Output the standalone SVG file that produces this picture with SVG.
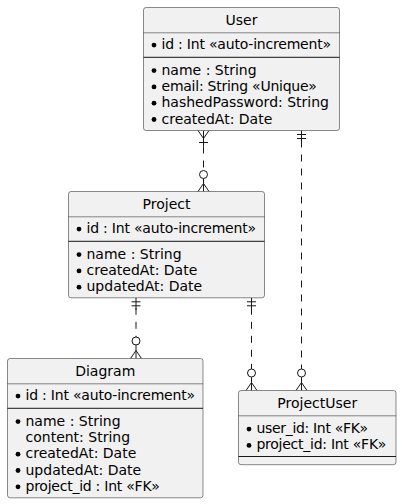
<svg xmlns="http://www.w3.org/2000/svg" width="402" height="504" viewBox="0 0 402 504">
<style>
.box{fill:#F1F1F1;stroke:#181818;stroke-width:0.5}
.hsep{stroke:#181818;stroke-width:0.5}
.sep{stroke:#181818;stroke-width:1}
.t{font-family:"DejaVu Sans",sans-serif;font-size:14px;fill:#000000}
.title{text-anchor:middle}
.b{fill:#000000}
.ln{stroke:#181818;stroke-width:1;fill:none}
.dash{stroke:#181818;stroke-width:1;fill:none;stroke-dasharray:7,7}
</style>
<rect width="402" height="504" fill="#FFFFFF"/>
<g id="connectors">
  <!-- User -> Project -->
  <path class="ln" d="M198,130.5 L203.5,138.5 L209,130.5 M203.5,130.5 L203.5,146.5 M199,142.5 L208,142.5"/>
  <line class="dash" x1="203.5" y1="146.5" x2="203.5" y2="170.5"/>
  <circle class="ln" cx="203.5" cy="174.5" r="4"/>
  <path class="ln" d="M203.5,178.5 L203.5,191.5 M198,191.5 L203.5,183.5 L209,191.5"/>
  <!-- User -> ProjectUser -->
  <path class="ln" d="M301.5,130.5 L301.5,142.5 M297,134.5 L306,134.5 M297,138.5 L306,138.5"/>
  <line class="dash" x1="301.5" y1="140.5" x2="301.5" y2="369"/>
  <circle class="ln" cx="301.5" cy="373" r="4"/>
  <path class="ln" d="M301.5,377 L301.5,390.5 M296,390.5 L301.5,382.5 L307,390.5"/>
  <!-- Project -> Diagram -->
  <path class="ln" d="M136,297.8 L136,309.8 M131.5,301.8 L140.5,301.8 M131.5,305.8 L140.5,305.8"/>
  <line class="dash" x1="136" y1="307.8" x2="136" y2="337"/>
  <circle class="ln" cx="136" cy="341" r="4"/>
  <path class="ln" d="M136,345 L136,358.5 M130.5,358.5 L136,350.5 L141.5,358.5"/>
  <!-- Project -> ProjectUser -->
  <path class="ln" d="M251.5,297.8 L251.5,309.8 M247,301.8 L256,301.8 M247,305.8 L256,305.8"/>
  <line class="dash" x1="251.5" y1="307.8" x2="251.5" y2="369"/>
  <circle class="ln" cx="251.5" cy="373" r="4"/>
  <path class="ln" d="M251.5,377 L251.5,390.5 M246,390.5 L251.5,382.5 L257,390.5"/>
</g>
<g id="User">
  <rect class="box" x="143.5" y="7.5" width="196" height="123" rx="2.5" ry="2.5"/>
  <line class="hsep" x1="143.5" y1="32.8" x2="339.5" y2="32.8"/>
  <line class="sep" x1="143.5" y1="57.3" x2="339.5" y2="57.3"/>
  <text class="t title" x="241.5" y="25.3">User</text>
  <circle class="b" cx="154" cy="45.1" r="2.4"/>
  <text class="t" x="161.5" y="49.1" textLength="169.5" lengthAdjust="spacing">id : Int «auto-increment»</text>
  <circle class="b" cx="154" cy="70.6" r="2.4"/>
  <text class="t" x="161.5" y="74.6">name : String</text>
  <circle class="b" cx="154" cy="86.9" r="2.4"/>
  <text class="t" x="161.5" y="90.9" textLength="155.4" lengthAdjust="spacing">email: String «Unique»</text>
  <circle class="b" cx="154" cy="103.2" r="2.4"/>
  <text class="t" x="161.5" y="107.2">hashedPassword: String</text>
  <circle class="b" cx="154" cy="119.5" r="2.4"/>
  <text class="t" x="161.5" y="123.5">createdAt: Date</text>
</g>
<g id="Project">
  <rect class="box" x="68.5" y="191.5" width="196" height="106.3" rx="2.5" ry="2.5"/>
  <line class="hsep" x1="68.5" y1="216.8" x2="264.5" y2="216.8"/>
  <line class="sep" x1="68.5" y1="241.3" x2="264.5" y2="241.3"/>
  <text class="t title" x="166.5" y="209.3">Project</text>
  <circle class="b" cx="79" cy="229.1" r="2.4"/>
  <text class="t" x="86.5" y="233.1" textLength="169.5" lengthAdjust="spacing">id : Int «auto-increment»</text>
  <circle class="b" cx="79" cy="254.6" r="2.4"/>
  <text class="t" x="86.5" y="258.6">name : String</text>
  <circle class="b" cx="79" cy="270.9" r="2.4"/>
  <text class="t" x="86.5" y="274.9">createdAt: Date</text>
  <circle class="b" cx="79" cy="287.2" r="2.4"/>
  <text class="t" x="86.5" y="291.2">updatedAt: Date</text>
</g>
<g id="Diagram">
  <rect class="box" x="7.5" y="358.5" width="195.5" height="139.3" rx="2.5" ry="2.5"/>
  <line class="hsep" x1="7.5" y1="383.8" x2="203" y2="383.8"/>
  <line class="sep" x1="7.5" y1="408.3" x2="203" y2="408.3"/>
  <text class="t title" x="105.25" y="376.3">Diagram</text>
  <circle class="b" cx="18" cy="396.1" r="2.4"/>
  <text class="t" x="25.5" y="400.1" textLength="169.5" lengthAdjust="spacing">id : Int «auto-increment»</text>
  <circle class="b" cx="18" cy="421.6" r="2.4"/>
  <text class="t" x="25.5" y="425.6">name : String</text>
  <text class="t" x="25.5" y="441.9">content: String</text>
  <circle class="b" cx="18" cy="454.2" r="2.4"/>
  <text class="t" x="25.5" y="458.2">createdAt: Date</text>
  <circle class="b" cx="18" cy="470.5" r="2.4"/>
  <text class="t" x="25.5" y="474.5">updatedAt: Date</text>
  <circle class="b" cx="18" cy="486.8" r="2.4"/>
  <text class="t" x="25.5" y="490.8" textLength="134.4" lengthAdjust="spacing">project_id : Int «FK»</text>
</g>
<g id="ProjectUser">
  <rect class="box" x="238.5" y="390.5" width="157.5" height="74.2" rx="2.5" ry="2.5"/>
  <line class="hsep" x1="238.5" y1="415.8" x2="396" y2="415.8"/>
  <line class="sep" x1="238.5" y1="456.5" x2="396" y2="456.5"/>
  <text class="t title" x="317.25" y="408.3">ProjectUser</text>
  <circle class="b" cx="249" cy="429.1" r="2.4"/>
  <text class="t" x="256.5" y="433.1" textLength="111.6" lengthAdjust="spacing">user_id: Int «FK»</text>
  <circle class="b" cx="249" cy="445.4" r="2.4"/>
  <text class="t" x="256.5" y="449.4" textLength="129.9" lengthAdjust="spacing">project_id: Int «FK»</text>
</g>
</svg>
